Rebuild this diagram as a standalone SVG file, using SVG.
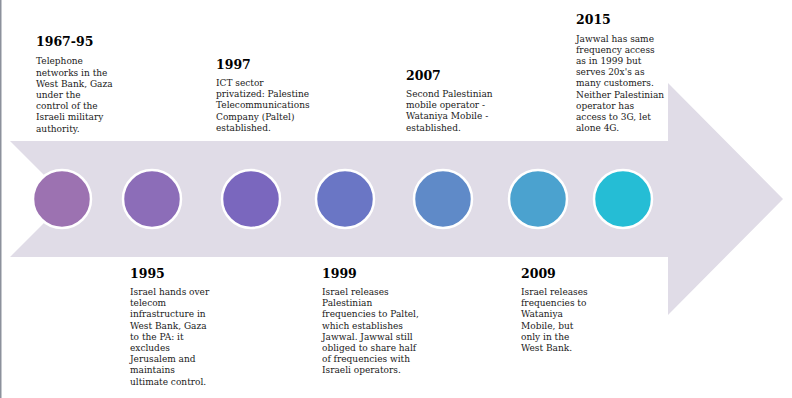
<svg xmlns="http://www.w3.org/2000/svg" width="792" height="398" viewBox="0 0 792 398">
<style>
.h{font-family:"DejaVu Serif","Liberation Serif",serif;font-weight:bold;font-size:12.5px;fill:#000}
.b{font-family:"DejaVu Serif","Liberation Serif",serif;font-size:9px;fill:#1a1a1a}
.dot{stroke:#fff;stroke-width:2.5}
</style>
<rect x="0" y="0" width="792" height="398" fill="#fff"/>
<rect x="0" y="0" width="1.5" height="398" fill="#8c919c"/>
<g id="arrow">
<polygon points="10,141 668,141 668,83 783,199 668,315 668,257 10,257 68,199" fill="#e0dce7"/>
</g>
<g id="dots">
<circle class="dot" cx="62" cy="199" r="29" fill="#9c72b1"/>
<circle class="dot" cx="152" cy="199" r="29" fill="#8c6db8"/>
<circle class="dot" cx="251" cy="199" r="29" fill="#7a67be"/>
<circle class="dot" cx="345" cy="199" r="29" fill="#6a76c5"/>
<circle class="dot" cx="443" cy="199" r="29" fill="#5f8ac8"/>
<circle class="dot" cx="538" cy="199" r="29" fill="#4ba2cf"/>
<circle class="dot" cx="623" cy="199" r="29" fill="#25bdd5"/>
</g>
<g id="e1967">
<text class="h" x="36" y="46">1967-95</text>
<text class="b" x="36" y="64.3">Telephone</text>
<text class="b" x="36" y="75.5">networks in the</text>
<text class="b" x="36" y="86.7">West Bank, Gaza</text>
<text class="b" x="36" y="97.9">under the</text>
<text class="b" x="36" y="109.1">control of the</text>
<text class="b" x="36" y="120.3">Israeli military</text>
<text class="b" x="36" y="131.5">authority.</text>
</g>
<g id="e1997">
<text class="h" x="216" y="69">1997</text>
<text class="b" x="216" y="86">ICT sector</text>
<text class="b" x="216" y="97.2">privatized: Palestine</text>
<text class="b" x="216" y="108.4">Telecommunications</text>
<text class="b" x="216" y="119.6">Company (Paltel)</text>
<text class="b" x="216" y="130.8">established.</text>
</g>
<g id="e2007">
<text class="h" x="406" y="80">2007</text>
<text class="b" x="406" y="97">Second Palestinian</text>
<text class="b" x="406" y="108.2">mobile operator -</text>
<text class="b" x="406" y="119.4">Wataniya Mobile -</text>
<text class="b" x="406" y="130.6">established.</text>
</g>
<g id="e2015">
<text class="h" x="576" y="24">2015</text>
<text class="b" x="576" y="42">Jawwal has same</text>
<text class="b" x="576" y="53.1">frequency access</text>
<text class="b" x="576" y="64.2">as in 1999 but</text>
<text class="b" x="576" y="75.3">serves 20x's as</text>
<text class="b" x="576" y="86.4">many customers.</text>
<text class="b" x="576" y="97.5">Neither Palestinian</text>
<text class="b" x="576" y="108.6">operator has</text>
<text class="b" x="576" y="119.7">access to 3G, let</text>
<text class="b" x="576" y="130.8">alone 4G.</text>
</g>
<g id="e1995">
<text class="h" x="130" y="277.5">1995</text>
<text class="b" x="130" y="295">Israel hands over</text>
<text class="b" x="130" y="306.2">telecom</text>
<text class="b" x="130" y="317.4">infrastructure in</text>
<text class="b" x="130" y="328.6">West Bank, Gaza</text>
<text class="b" x="130" y="339.8">to the PA: it</text>
<text class="b" x="130" y="351">excludes</text>
<text class="b" x="130" y="362.2">Jerusalem and</text>
<text class="b" x="130" y="373.4">maintains</text>
<text class="b" x="130" y="384.6">ultimate control.</text>
</g>
<g id="e1999">
<text class="h" x="322" y="277.5">1999</text>
<text class="b" x="322" y="295">Israel releases</text>
<text class="b" x="322" y="306.2">Palestinian</text>
<text class="b" x="322" y="317.4">frequencies to Paltel,</text>
<text class="b" x="322" y="328.6">which establishes</text>
<text class="b" x="322" y="339.8">Jawwal. Jawwal still</text>
<text class="b" x="322" y="351">obliged to share half</text>
<text class="b" x="322" y="362.2">of frequencies with</text>
<text class="b" x="322" y="373.4">Israeli operators.</text>
</g>
<g id="e2009">
<text class="h" x="521" y="277.5">2009</text>
<text class="b" x="521" y="295">Israel releases</text>
<text class="b" x="521" y="306.2">frequencies to</text>
<text class="b" x="521" y="317.4">Wataniya</text>
<text class="b" x="521" y="328.6">Mobile, but</text>
<text class="b" x="521" y="339.8">only in the</text>
<text class="b" x="521" y="351">West Bank.</text>
</g>
</svg>
